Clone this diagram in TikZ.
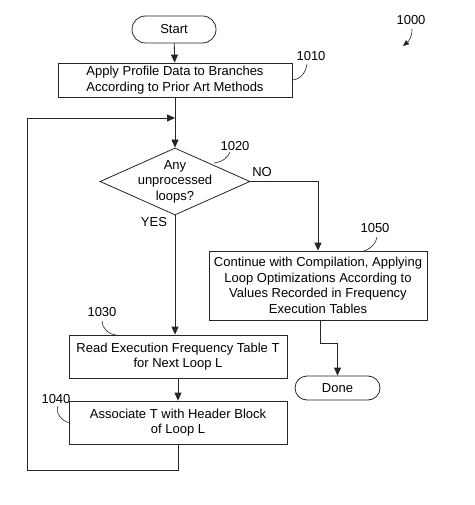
\documentclass[tikz,border=0pt]{standalone}
\usepackage{fontspec}
\setmainfont{Liberation Sans}
\usetikzlibrary{shapes.geometric,shapes.misc,arrows.meta}
\begin{document}
\begin{tikzpicture}[x=1pt,y=-1pt,
  every node/.style={font=\fontsize{13}{15.5}\selectfont},
  line/.style={draw=black!85,line width=0.8pt},
  arr/.style={line,-{Triangle[length=8pt,width=7pt]}},
  procbox/.style={line,rectangle,align=center,inner sep=0pt},
  pill/.style={line,rounded rectangle,inner sep=0pt},
  lbl/.style={inner sep=1pt},
  lead/.style={line,line width=0.6pt}]
\useasboundingbox (0,0) rectangle (474,505);
\fill[white] (0,0) rectangle (474,505);
% nodes
\node[pill,minimum width=84pt,minimum height=27pt] (start) at (174,29.5) {Start};
\node[procbox,minimum width=234pt,minimum height=34pt] (apply) at (175,80) {Apply Profile Data to Branches\\According to Prior Art Methods};
\node[line,diamond,minimum width=150pt,minimum height=67pt,inner sep=0pt,aspect=2.24] (dec) at (175,181.5) {};
\node[align=center,inner sep=0pt] (dectext) at (dec.center) {Any\\unprocessed\\loops?};
\node[procbox,minimum width=218pt,minimum height=69pt] (f1050) at (318,285.5) {Continue with Compilation, Applying\\Loop Optimizations According to\\Values Recorded in Frequency\\Execution Tables};
\node[pill,minimum width=85pt,minimum height=24pt] (done) at (337.5,388) {Done};
\node[procbox,minimum width=218pt,minimum height=43pt] (f1030) at (178,356.5) {Read Execution Frequency Table T\\for Next Loop L};
\node[procbox,minimum width=218pt,minimum height=43pt] (f1040) at (178,422.5) {Associate T with Header Block\\of Loop L};
% labels
\node[lbl] (n1000) at (411,20) {1000};
\node[lbl] (n1010) at (311,56) {1010};
\node[lbl] (n1020) at (235,146) {1020};
\node[lbl] (n1050) at (375,228) {1050};
\node[lbl] (n1030) at (102,312) {1030};
\node[lbl] (n1040) at (56,399) {1040};
\node[lbl] (no) at (262,172) {NO};
\node[lbl] (yes) at (154,222) {YES};
% coordinates
\coordinate (lb) at (27,470);
\coordinate (lt) at (27,118);
\coordinate (d1) at (320,343);
% connectors
\draw[arr] (start) -- (apply);
\draw[arr] (apply.south) -- (apply.south |- dec.north);
\draw[arr] (dec.east) -| (f1050.north);
\draw[arr] (dec.south) -- (dec.south |- f1030.north);
\draw[arr] (f1030) -- (f1040);
\draw[arr] (f1040.south) |- (lb) -- (lt) -- (lt -| apply.south);
\draw[arr] (f1050.south -| d1) -- (d1) -| (done.north);
% leaders
\draw[lead] (apply.east) .. controls (302,79) and (306,71) .. (307,64);
\draw[lead] (214,163) .. controls (223,162) and (228,157) .. (230,152);
\draw[lead] (364,251) .. controls (372,248) and (376,243) .. (377,237);
\draw[lead] (102,321) .. controls (102,328) and (108,334) .. (116,335);
\draw[lead] (58,406) .. controls (55,413) and (62,421) .. (f1040.west);
\draw[lead,-{Triangle[length=6pt,width=5pt]}] (412,29) .. controls (412,37) and (409,41) .. (403,46);
\end{tikzpicture}
\end{document}
